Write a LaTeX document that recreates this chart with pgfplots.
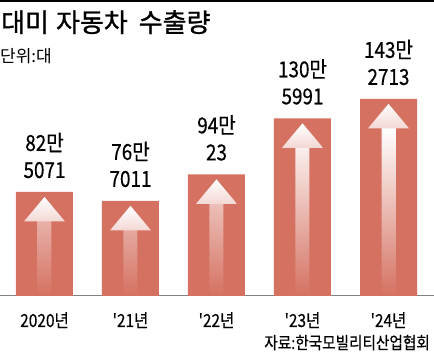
\documentclass[border=0pt]{standalone}
\usepackage{fontspec}
\setmainfont{Noto Sans CJK KR}
\newfontfamily\titlefont[FakeBold=1.2]{Noto Sans CJK KR}
\newfontfamily\cond[FakeStretch=0.86,FakeBold=0.4,Ligatures=TeXOff]{Noto Sans CJK KR}
\usepackage{pgfplots}
\pgfplotsset{compat=1.18}
\definecolor{barcol}{RGB}{213,113,97}
\definecolor{axgray}{RGB}{130,130,130}
\pgfdeclareplotmark{ahead}{%
  \shade[draw=none, top color=white, bottom color=barcol!28!white]
    (-20.5pt,-0.5pt) -- (20.5pt,-0.5pt) -- (0pt,24pt) -- cycle;%
}
\begin{document}
\begin{tikzpicture}
\path[use as bounding box] (0,0) rectangle (434pt,355pt);
\draw[black, line width=2pt] (0,354pt) -- (434pt,354pt);
\node[anchor=base west, inner sep=0, font=\titlefont\fontsize{26}{30}\selectfont] at (1pt,323pt) {대미\hspace{7pt}자동차\hspace{11pt}수출량};
\node[anchor=base west, inner sep=0, font=\fontsize{17}{20}\selectfont] at (0pt,292pt) {단위:대};
\begin{axis}[
  at={(0pt,59pt)}, anchor=south west,
  width=434pt, height=296pt, scale only axis,
  xmin=-0.5174, xmax=4.5291, ymin=146000, ymax=2078000,
  axis x line*=bottom, hide y axis,
  axis line style={axgray, line width=1pt},
  xtick={0,1,2,3,4},
  xticklabels={2020년,'21년,'22년,'23년,'24년},
  major tick length=0pt,
  xticklabel style={anchor=base, yshift=-31pt, inner sep=0pt, font=\cond\fontsize{18}{20}\selectfont},
]
\addplot[ybar, bar width=57pt, bar shift=0pt, fill=barcol, draw=none]
  coordinates {(0,825071) (1,767011) (2,940023) (3,1305991) (4,1432713)};
\addplot[ybar, bar width=14pt, bar shift=0pt, draw=none, top color=white, bottom color=barcol]
  coordinates {(0,635800) (1,577700) (2,750700) (3,1116700) (4,1243400)};
\addplot[only marks, mark=ahead, draw=none, mark options={draw=none, fill=none}]
  coordinates {(0,635800) (1,577700) (2,750700) (3,1116700) (4,1243400)};
\tikzset{lab/.style={anchor=base, inner sep=0pt, font=\cond\fontsize{22}{26}\selectfont}}
\node[lab, yshift=14pt] at (axis cs:0,825071) {5071};
\node[lab, yshift=41pt] at (axis cs:0,825071) {82만};
\node[lab, yshift=14pt] at (axis cs:1,767011) {7011};
\node[lab, yshift=41pt] at (axis cs:1,767011) {76만};
\node[lab, yshift=14pt] at (axis cs:2,940023) {23};
\node[lab, yshift=41pt] at (axis cs:2,940023) {94만};
\node[lab, yshift=14pt] at (axis cs:3,1305991) {5991};
\node[lab, yshift=41pt] at (axis cs:3,1305991) {130만};
\node[lab, yshift=14pt] at (axis cs:4,1432713) {2713};
\node[lab, yshift=41pt] at (axis cs:4,1432713) {143만};
\end{axis}
\node[anchor=base east, inner sep=0, font=\cond\fontsize{17}{20}\selectfont] at (430pt,6pt) {자료:한국모빌리티산업협회};
\end{tikzpicture}
\end{document}
